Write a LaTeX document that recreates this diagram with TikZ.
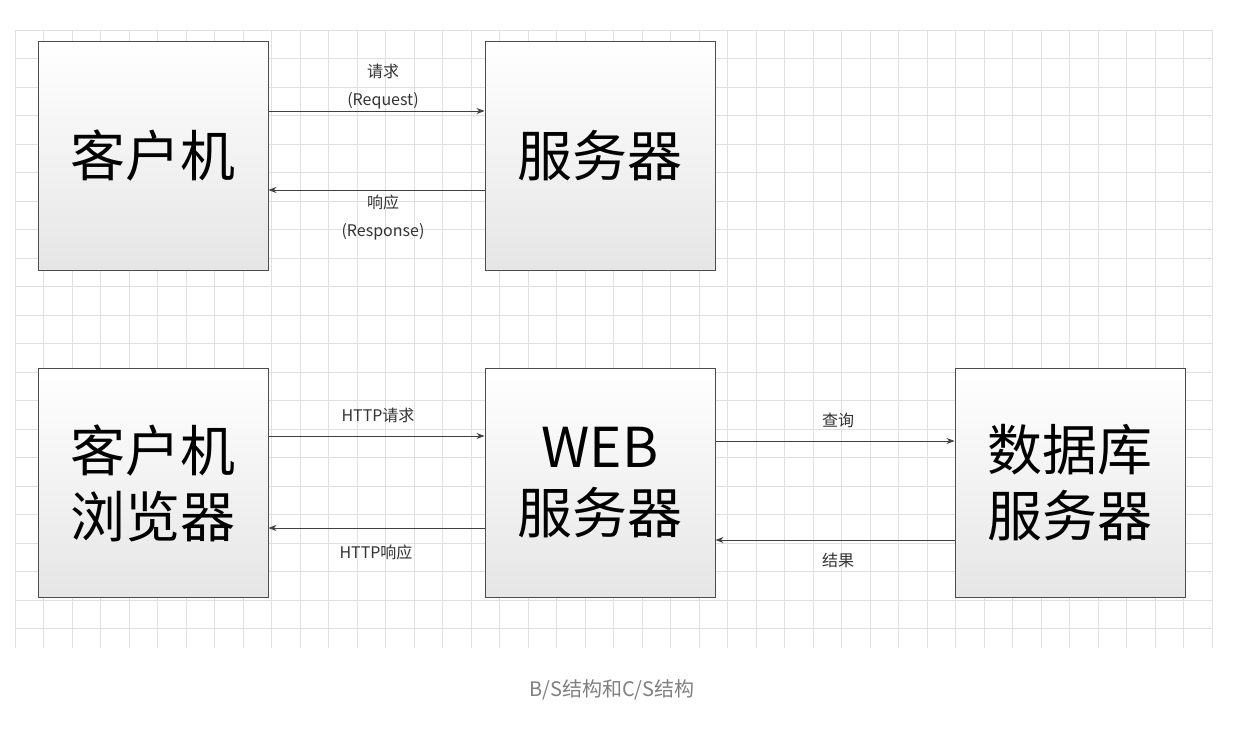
\documentclass[tikz,border=0pt]{standalone}
\usepackage{fontspec}
\newfontfamily\cjk{Noto Sans CJK SC}
\usetikzlibrary{arrows.meta}
\begin{document}
\begin{tikzpicture}[x=1pt,y=-1pt,
 box/.style={draw=black!70,line width=1pt,top color=white,bottom color=black!10,minimum width=230pt,minimum height=229pt,inner sep=0pt,align=center,font=\cjk\fontsize{55}{66}\selectfont},
 lbl/.style={font=\cjk\fontsize{16}{28}\selectfont,text=black!80,align=center},
 arr/.style={draw=black!75,line width=0.8pt,-{Stealth[length=8pt,width=6pt]}}]
\useasboundingbox (0,0) rectangle (1250,730);
\fill[white] (0,0) rectangle (1250,730);
\foreach \i in {0,...,42} \draw[black!12,line width=0.6pt] (15+28.5*\i,30) -- (15+28.5*\i,648);
\foreach \j in {0,...,21} \draw[black!12,line width=0.6pt] (15,30+28.5*\j) -- (1213,30+28.5*\j);
\node[box] (c1) at (153,156) {客户机};
\node[box] (s1) at (600,156) {服务器};
\node[box] (c2) at (153,483) {客户机\\浏览器};
\node[box] (w2) at (600,483) {WEB\\服务器};
\node[box] (d2) at (1070,483) {数据库\\服务器};
\draw[arr] (c1.east|-0,111) -- (s1.west|-0,111);
\draw[arr] (s1.west|-0,190) -- (c1.east|-0,190);
\draw[arr] (c2.east|-0,436) -- (w2.west|-0,436);
\draw[arr] (w2.west|-0,528) -- (c2.east|-0,528);
\draw[arr] (w2.east|-0,441) -- (d2.west|-0,441);
\draw[arr] (d2.west|-0,540) -- (w2.east|-0,540);
\node[lbl] (t1) at (383,87) {请求\\(Request)};
\node[lbl] (t2) at (383,218) {响应\\(Response)};
\node[lbl] (t3) at (378,415) {HTTP请求};
\node[lbl] (t4) at (376,552) {HTTP响应};
\node[lbl] (t5) at (838,420) {查询};
\node[lbl] (t6) at (838,560) {结果};
\node[font=\cjk\fontsize{20}{24}\selectfont,text=black!50] (cap) at (612,690) {B/S结构和C/S结构};
\end{tikzpicture}
\end{document}
